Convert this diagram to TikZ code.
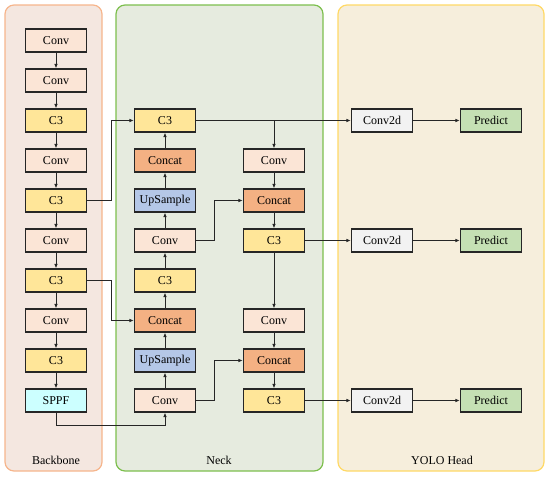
\documentclass[tikz,border=0pt]{standalone}
\usepackage{fontspec}
\setmainfont{Liberation Serif}
\usetikzlibrary{arrows.meta,positioning}
\definecolor{convc}{HTML}{FBE5D6}
\definecolor{c3c}{HTML}{FFE699}
\definecolor{catc}{HTML}{F4B183}
\definecolor{upc}{HTML}{B4C7E7}
\definecolor{sppfc}{HTML}{CCFFFF}
\definecolor{c2dc}{HTML}{F2F2F2}
\definecolor{predc}{HTML}{C5E0B4}
\definecolor{bbfill}{HTML}{F4E7E0}
\definecolor{bbline}{HTML}{F6B58C}
\definecolor{nkfill}{HTML}{E6EBDF}
\definecolor{nkline}{HTML}{7DBF4E}
\definecolor{hdfill}{HTML}{F6EEDC}
\definecolor{hdline}{HTML}{FFD966}
\definecolor{edgec}{HTML}{262626}
\tikzset{
  blk/.style={draw=edgec, line width=1.1pt, minimum width=61pt, minimum height=23pt, inner sep=0pt, font=\fontsize{12}{14}\selectfont},
  convb/.style={blk, fill=convc},
  c3b/.style={blk, fill=c3c},
  catb/.style={blk, fill=catc},
  upb/.style={blk, fill=upc},
  sppfb/.style={blk, fill=sppfc},
  c2db/.style={blk, fill=c2dc},
  predb/.style={blk, fill=predc},
  panel/.style={rounded corners=9pt, line width=1.2pt},
  arr/.style={draw=edgec, line width=0.9pt, -{Latex[length=4.5pt,width=3.5pt]}},
  plabel/.style={font=\fontsize{12}{14}\selectfont}
}
\begin{document}
\begin{tikzpicture}[x=1pt,y=-1pt]
\useasboundingbox (0,0) rectangle (550,477);
% panels
\draw[panel, fill=bbfill, draw=bbline] (5,5) rectangle (102,471);
\draw[panel, fill=nkfill, draw=nkline] (116,5) rectangle (323,471);
\draw[panel, fill=hdfill, draw=hdline] (338,5) rectangle (544,471);
\node[plabel] (lbb) at (56,460) {Backbone};
\node[plabel] (lnk) at (219,460) {Neck};
\node[plabel] (lhd) at (442,460) {YOLO Head};
% backbone
\node[convb] (b1) at (56,40.5) {Conv};
\node[convb] (b2) at (56,80.5) {Conv};
\node[c3b]   (b3) at (56,120.5) {C3};
\node[convb] (b4) at (56,160.5) {Conv};
\node[c3b]   (b5) at (56,200.5) {C3};
\node[convb] (b6) at (56,240.5) {Conv};
\node[c3b]   (b7) at (56,280.5) {C3};
\node[convb] (b8) at (56,320.5) {Conv};
\node[c3b]   (b9) at (56,360.5) {C3};
\node[sppfb] (b10) at (56,400.5) {SPPF};
% neck left
\node[c3b]   (n1) at (165,120.5) {C3};
\node[catb]  (n2) at (165,160.5) {Concat};
\node[upb]   (n3) at (165,200.5) {UpSample};
\node[convb] (n4) at (165,240.5) {Conv};
\node[c3b]   (n5) at (165,280.5) {C3};
\node[catb]  (n6) at (165,320.5) {Concat};
\node[upb]   (n7) at (165,360.5) {UpSample};
\node[convb] (n8) at (165,400.5) {Conv};
% neck right
\node[convb] (r1) at (274,160.5) {Conv};
\node[catb]  (r2) at (274,200.5) {Concat};
\node[c3b]   (r3) at (274,240.5) {C3};
\node[convb] (r4) at (274,320.5) {Conv};
\node[catb]  (r5) at (274,360.5) {Concat};
\node[c3b]   (r6) at (274,400.5) {C3};
% head
\node[c2db]  (h1) at (382,120.5) {Conv2d};
\node[c2db]  (h2) at (382,240.5) {Conv2d};
\node[c2db]  (h3) at (382,400.5) {Conv2d};
\node[predb] (p1) at (491,120.5) {Predict};
\node[predb] (p2) at (491,240.5) {Predict};
\node[predb] (p3) at (491,400.5) {Predict};
% backbone chain
\foreach \a/\b in {b1/b2,b2/b3,b3/b4,b4/b5,b5/b6,b6/b7,b7/b8,b8/b9,b9/b10}
  \draw[arr] (\a) -- (\b);
% neck left chain (upward)
\foreach \a/\b in {n8/n7,n7/n6,n6/n5,n5/n4,n4/n3,n3/n2,n2/n1}
  \draw[arr] (\a) -- (\b);
% neck right chain
\foreach \a/\b in {r1/r2,r2/r3,r3/r4,r4/r5,r5/r6}
  \draw[arr] (\a) -- (\b);
% cross connections
\draw[arr] (b5.east) -- ++(24,0) |- (n1.west);
\draw[arr] (b7.east) -- ++(24,0) |- (n6.west);
\draw[arr] (b10.south) -- ++(0,13) -| (n8.south);
\draw[arr] (n4.east) -- ++(18.5,0) |- (r2.west);
\draw[arr] (n8.east) -- ++(18.5,0) |- (r5.west);
\draw[arr] (n1.east) -- (h1.west);
\draw[arr] (n1.east -| r1.north) -- (r1.north);
\draw[arr] (r3.east) -- (h2.west);
\draw[arr] (r6.east) -- (h3.west);
\draw[arr] (h1) -- (p1);
\draw[arr] (h2) -- (p2);
\draw[arr] (h3) -- (p3);
\end{tikzpicture}
\end{document}
